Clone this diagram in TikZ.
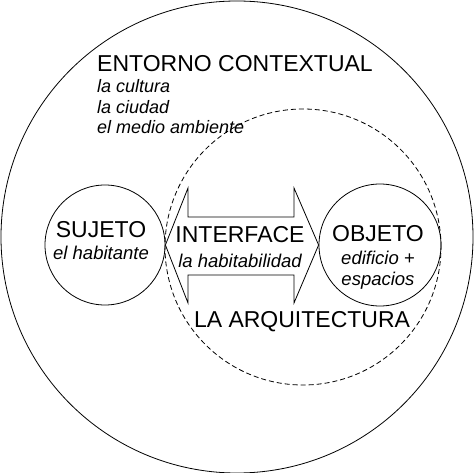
\documentclass[tikz,border=0pt]{standalone}
\usepackage{fontspec}
\setmainfont{Liberation Sans}
\usetikzlibrary{calc}
\tikzset{
  ring/.style={draw, circle, line width=0.8pt, inner sep=0pt},
  big/.style={font=\fontsize{23}{27}\selectfont, anchor=base, inner sep=0pt},
  small/.style={font=\fontsize{18.5}{22}\selectfont\itshape, anchor=base, inner sep=0pt},
}
\begin{document}
\begin{tikzpicture}[x=1pt,y=-1pt]
			\useasboundingbox (0,0) rectangle (474,473);
			% circles
			\node[ring, minimum size=472pt] (entorno) at (237,237) {};
			\node[ring, minimum size=120pt] (sujeto) at (105,245) {};
			\node[ring, minimum size=122pt] (objeto) at (380,245) {};
			% double arrow between them
			\coordinate (L) at (sujeto.east);
			\coordinate (R) at (objeto.west);
			\draw[line width=0.8pt] (L) -- (188,188) -- (188,217) -- (294,217) -- (294,188)
				-- (R) -- (294,303) -- (294,275) -- (188,275) -- (188,303) -- cycle;
			% the dashed one goes over the rest
			\node[ring, dashed, dash pattern=on 5pt off 3pt, minimum size=276pt] (arq) at (303,247) {};
			% labels
			\node[big, anchor=base west] (t1) at (97,72) {ENTORNO CONTEXTUAL};
			\foreach \y/\txt in {93/la cultura, 114/la ciudad, 134/el medio ambiente} {
				\node[small, anchor=base west, font=\fontsize{18}{21}\selectfont\itshape] at (97,\y) {\txt};
			}
			\node[big] (s1) at (101,238) {SUJETO};
			\node[small] (s2) at (101,260) {el habitante};
			\node[big] (i1) at (240,243) {INTERFACE};
			\node[small] (i2) at (240,267) {la habitabilidad};
			\node[big] (o1) at (378,242) {OBJETO};
			\node[small] (o2) at (378,265) {edificio +};
			\node[small] (o3) at (378,285) {espacios};
			\node[big] (a1) at (302,327) {LA ARQUITECTURA};
		\end{tikzpicture}
\end{document}
